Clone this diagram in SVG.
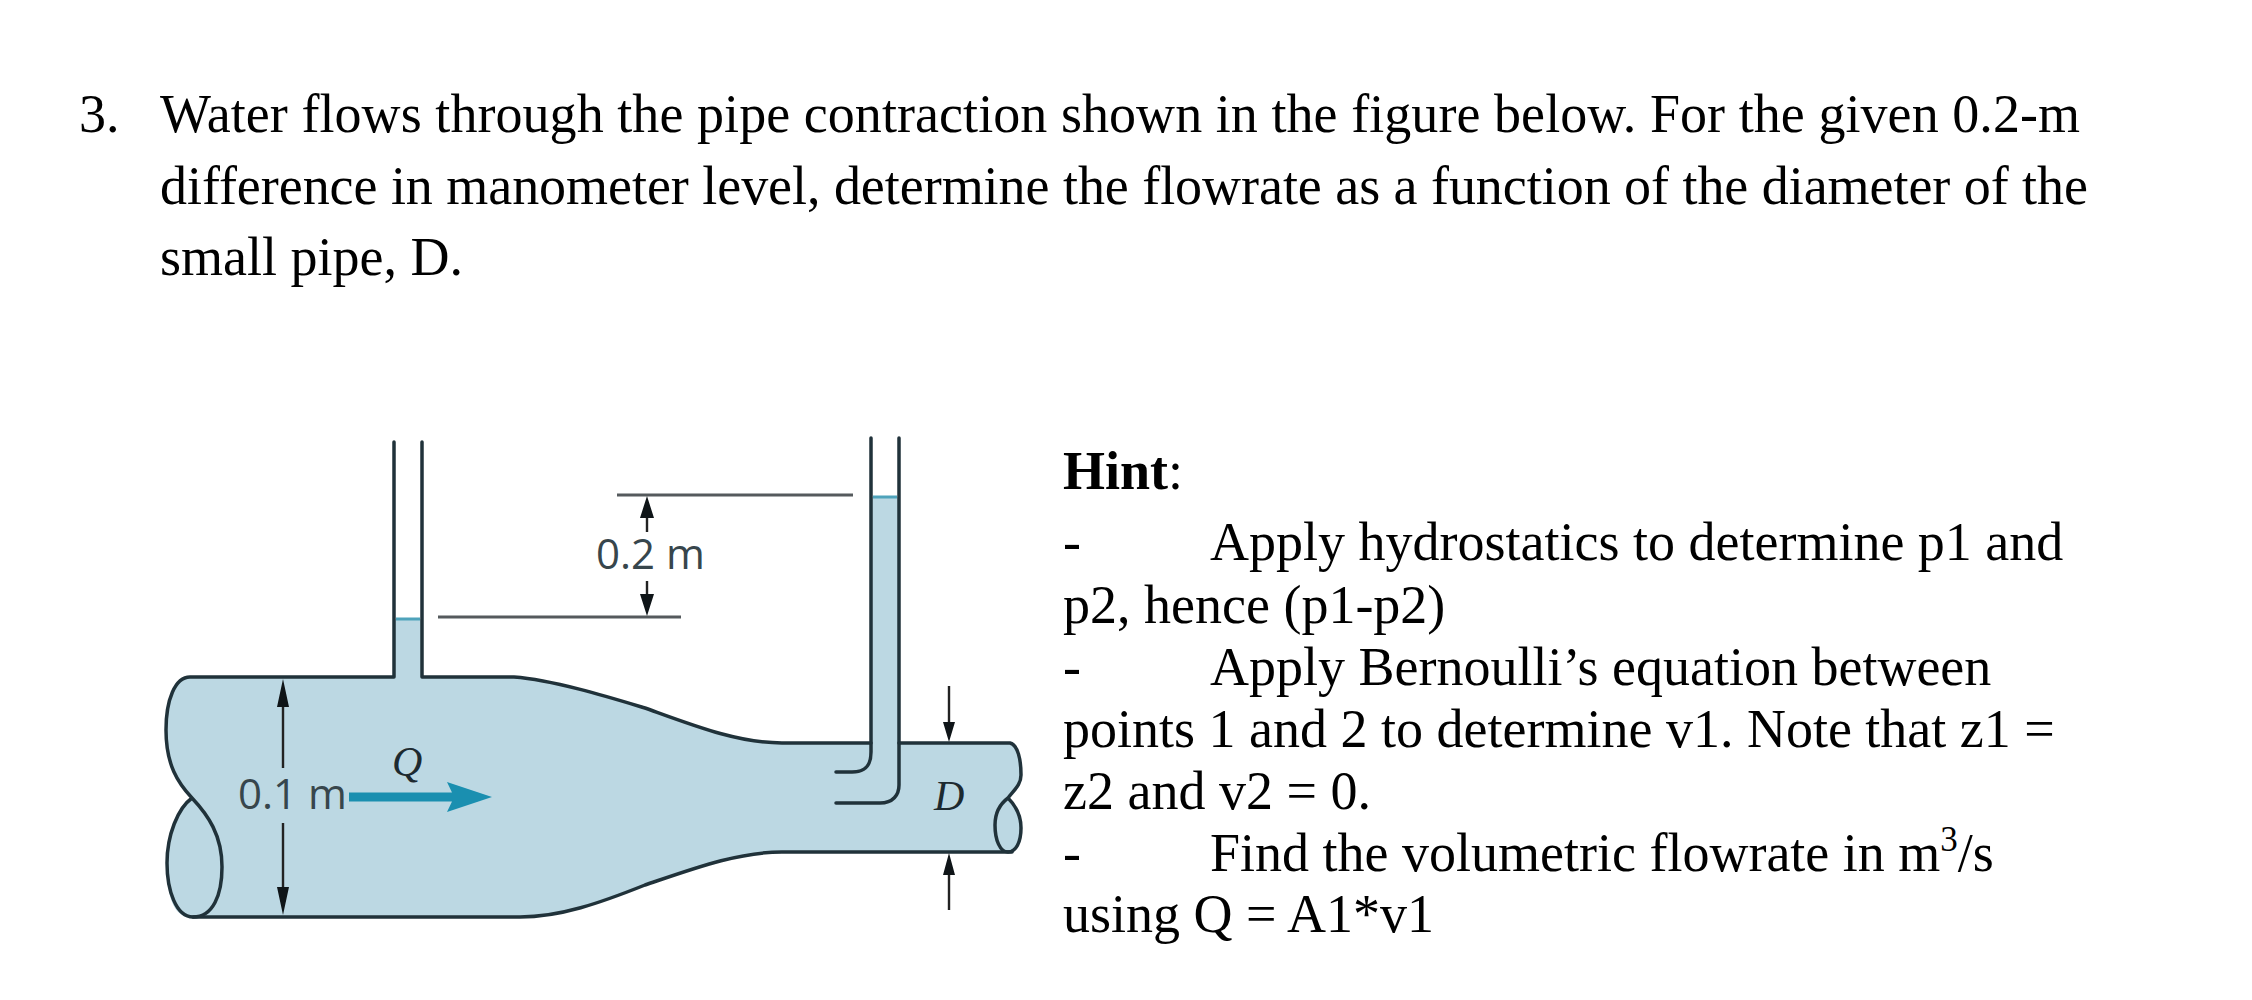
<svg xmlns="http://www.w3.org/2000/svg" width="2252" height="1000" viewBox="0 0 2252 1000">
<defs>
<style>
.t{font-family:"Liberation Serif","Times New Roman",serif;font-size:54px;fill:#000}
.l{font-family:"Open Sans","Liberation Sans",sans-serif;font-size:42px;fill:#37464c}
.i{font-family:"Liberation Serif",serif;font-style:italic;font-size:42px;fill:#1d2a30}
.p{fill:none;stroke:#20323a;stroke-width:3.500;stroke-linecap:round;stroke-linejoin:round}
.d{fill:none;stroke:#555a5d;stroke-width:3}
.a{fill:none;stroke:#222;stroke-width:2.400}
.ah{fill:#0f1518}
</style>
</defs>
<rect width="2252" height="1000" fill="#fff"/>
<g id="question">
<text class="t" x="79" y="132">3.</text>
<text class="t" x="160" y="132" textLength="1920">Water flows through the pipe contraction shown in the figure below. For the given 0.2-m</text>
<text class="t" x="160" y="204" textLength="1928">difference in manometer level, determine the flowrate as a function of the diameter of the</text>
<text class="t" x="160" y="275">small pipe, D.</text>
</g>
<g id="pipe">
<path d="M190,677H394V619H422V677H514C554,680 612,698 645,708C695,726 738,743 782,743H871V497H899V743H1010C1018,745 1021,760 1021,775C1021,785 1014,790 1008,798C1016,806 1021,815 1021,828C1021,842 1016,852 1008,852H782C738,852 695,868 645,885C600,903 560,917 520,917H190C172,917 166,890 167,863C167,835 178,808 192,798C178,785 166,765 166,730C166,700 175,677 190,677Z" fill="#bcd8e3"/>
<path class="p" d="M394,442V677H190C175,677 166,700 166,730C166,765 178,783 192,798C208,815 222,835 222,867C222,895 213,917 193,917C176,917 167,890 167,863C167,835 178,808 192,798"/>
<path class="p" d="M422,442V677H514C554,680 612,698 645,708C695,726 738,743 782,743H871"/>
<path class="p" d="M193,917H520C560,917 600,903 645,885C695,868 738,852 782,852H1012"/>
<path class="p" d="M871,438V752C871,765 866,772 852,772H836"/>
<path class="p" d="M899,438V785C899,795 893,803 880,803H836"/>
<path class="p" d="M899,743H1010C1018,745 1021,760 1021,775C1021,785 1014,790 1008,798C1016,806 1021,815 1021,828C1021,842 1016,852 1008,852C1000,852 995,840 995,825C995,812 1000,804 1008,798"/>
<path d="M396,619H420M873,497H897" stroke="#4fa3bb" stroke-width="3" fill="none"/>
</g>
<g id="labels">
<text class="l" x="238" y="809">0.1 m</text>
<text class="l" x="596" y="569">0.2 m</text>
<text class="i" x="392" y="776">Q</text>
<text class="i" x="934" y="810">D</text>
</g>
<g id="connectors">
<path class="d" d="M438,617H681M617,495H853"/>
<path class="a" d="M283,700V768M283,823V895M647,515V532M647,581V600M949,686V725M949,870V910"/>
<path class="ah" d="M283,679L289,707H277ZM283,915L289,887H277ZM647,496L654,518H640ZM647,616L654,594H640ZM949,742L955,722H943ZM949,853L955,875H943Z"/>
<path d="M349,792.500H452L447,782L492,797L447,812L452,801.500H349Z" fill="#1a8fb0"/>
</g>
<g id="hint">
<text class="t" x="1063" y="489"><tspan font-weight="bold">Hint</tspan>:</text>
<text class="t" x="1063" y="560">-</text>
<text class="t" x="1210" y="560">Apply hydrostatics to determine p1 and</text>
<text class="t" x="1063" y="623">p2, hence (p1-p2)</text>
<text class="t" x="1063" y="685">-</text>
<text class="t" x="1210" y="685">Apply Bernoulli’s equation between</text>
<text class="t" x="1063" y="747">points 1 and 2 to determine v1. Note that z1 =</text>
<text class="t" x="1063" y="809">z2 and v2 = 0.</text>
<text class="t" x="1063" y="871">-</text>
<text class="t" x="1210" y="871">Find the volumetric flowrate in m<tspan font-size="35" dy="-20">3</tspan><tspan dy="20">/s</tspan></text>
<text class="t" x="1063" y="932">using Q = A1*v1</text>
</g>
</svg>
